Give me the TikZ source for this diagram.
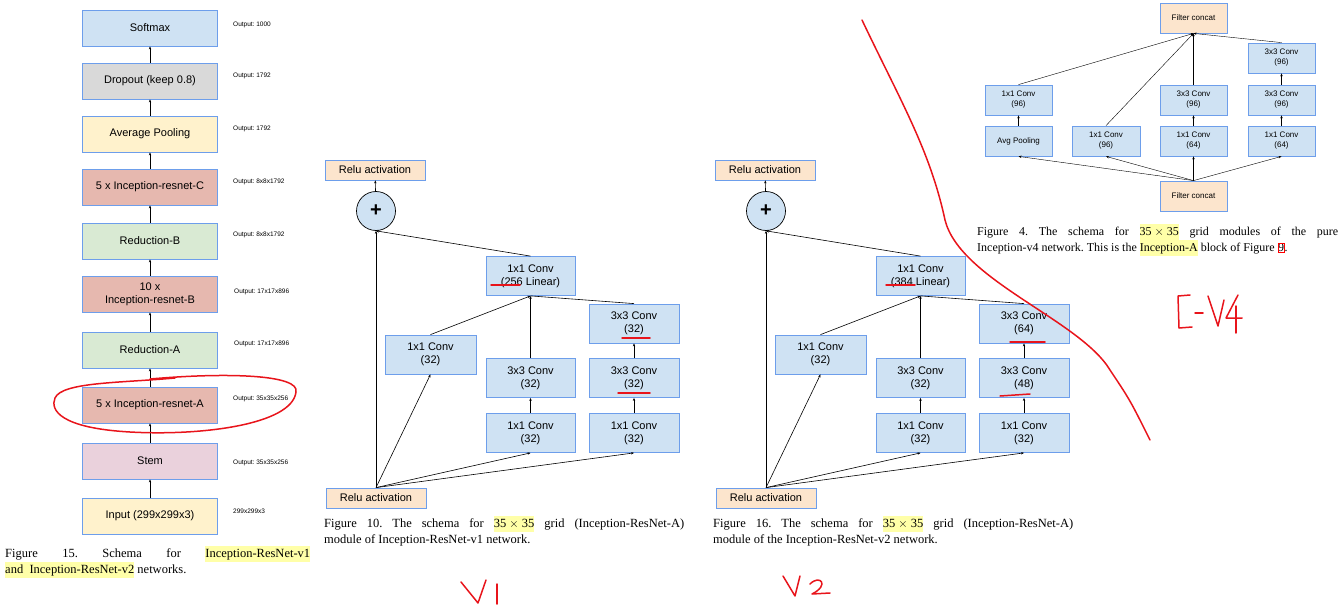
\documentclass[tikz,border=0pt]{standalone}
\usepackage{fontspec}
\setmainfont{Liberation Serif}
\newfontfamily\arial{Liberation Sans}
\usetikzlibrary{arrows.meta}
\definecolor{convfill}{HTML}{CFE2F3}
\definecolor{convdraw}{HTML}{6D9EEB}
\definecolor{relufill}{HTML}{FCE5CD}
\definecolor{redfill}{HTML}{E6B8AF}
\definecolor{greenfill}{HTML}{D9EAD3}
\definecolor{grayfill}{HTML}{D9D9D9}
\definecolor{yelfill}{HTML}{FFF2CC}
\definecolor{pinkfill}{HTML}{EAD1DC}
\definecolor{hly}{HTML}{FFFFA8}
\definecolor{pen}{HTML}{E8141B}
\newcommand{\hlt}[1]{{\setlength{\fboxsep}{0pt}\colorbox{hly}{\strut #1}}}
\frenchspacing
\tikzset{
  blk/.style={draw=convdraw, fill=convfill, line width=0.8pt, inner sep=0pt,
    align=center, font=\arial\fontsize{11}{13}\selectfont},
  conv/.style={blk, minimum width=90pt, minimum height=39pt},
  relu/.style={blk, fill=relufill, minimum width=100pt, minimum height=20pt},
  stage/.style={blk, minimum width=135pt, minimum height=36pt},
  small/.style={blk, font=\arial\fontsize{8}{10}\selectfont, minimum width=67pt, minimum height=30pt},
  outl/.style={anchor=west, inner sep=0pt, font=\arial\fontsize{6.5}{7}\selectfont},
  capt/.style={anchor=north west, inner sep=0pt, align=left, font=\fontsize{12.5}{16}\selectfont},
  arr/.style={-{Stealth[length=3pt,width=2.4pt]}, line width=0.6pt},
  ln/.style={line width=0.6pt},
  hand/.style={pen, line width=1.5pt, line cap=round, line join=round}
}
% one Inception-ResNet-A module, shifted by #1, node prefix #2
\newcommand{\resmod}[5]{%
  \begin{scope}[xshift=#1]
    \node[relu] (#2top) at (375,170) {Relu activation};
    \node[circle, draw=black, fill=convfill, line width=0.7pt, minimum size=39pt,
      inner sep=0pt, font=\arial\bfseries\fontsize{20}{20}\selectfont] (#2sum) at (376,211) {+};
    \node[conv, minimum width=89pt] (#2lin) at (530.5,276) {1x1 Conv\\(#3 Linear)};
    \node[conv] (#2ca) at (634,323.5) {3x3 Conv\\(#4)};
    \node[conv, minimum width=91pt] (#2left) at (430.5,354.5) {1x1 Conv\\(32)};
    \node[conv, minimum width=89pt] (#2mid) at (530.5,378) {3x3 Conv\\(32)};
    \node[conv] (#2cb) at (634,378) {3x3 Conv\\(#5)};
    \node[conv, minimum width=89pt] (#2mb) at (530.5,433) {1x1 Conv\\(32)};
    \node[conv] (#2rb) at (634,433) {1x1 Conv\\(32)};
    \node[relu] (#2in) at (376,498) {Relu activation};
    \draw[arr] (#2in.north) -- (#2left.south);
    \draw[arr] (#2in.north) -- (#2sum.south);
    \draw[arr] (#2in.north) -- (#2mb.south);
    \draw[arr] (#2in.north) -- (#2rb.south);
    \draw[arr] (#2mb) -- (#2mid);
    \draw[arr] (#2rb) -- (#2cb);
    \draw[arr] (#2cb) -- (#2ca);
    \draw[arr] (#2left.north) -- (#2lin.south);
    \draw[arr] (#2mid.north) -- (#2lin.south);
    \draw[ln] (#2ca.north) -- (#2lin.south);
    \draw[arr] (#2lin.north) -- (#2sum.south);
    \draw[arr] (#2sum) -- (#2top);
  \end{scope}}
\begin{document}
\begin{tikzpicture}[x=1pt, y=-1pt]
  \useasboundingbox (0,0) rectangle (1341,607);
  % left column
  \node[stage] (soft) at (150,28) {Softmax};
  \node[stage, fill=grayfill] (drop) at (150,81) {Dropout (keep 0.8)};
  \node[stage, fill=yelfill] (avg) at (150,134) {Average Pooling};
  \node[stage, fill=redfill] (irc) at (150,187) {5 x Inception-resnet-C};
  \node[stage, fill=greenfill] (redb) at (150,241) {Reduction-B};
  \node[stage, fill=redfill] (irb) at (150,294) {10 x\\Inception-resnet-B};
  \node[stage, fill=greenfill] (reda) at (150,350) {Reduction-A};
  \node[stage, fill=redfill] (ira) at (150,405) {5 x Inception-resnet-A};
  \node[stage, fill=pinkfill] (stem) at (150,461) {Stem};
  \node[stage, fill=yelfill] (inp) at (150,516) {Input (299x299x3)};
  \foreach \a/\b in {inp/stem, stem/ira, ira/reda, reda/irb, irb/redb, redb/irc, irc/avg, avg/drop, drop/soft}
    \draw[arr] (\a) -- (\b);
  \node[outl] at (233,25) {Output: 1000};
  \node[outl] at (233,76) {Output: 1792};
  \node[outl] at (233,129) {Output: 1792};
  \node[outl] at (233,182) {Output: 8x8x1792};
  \node[outl] at (233,235) {Output: 8x8x1792};
  \node[outl] at (234,292) {Output: 17x17x896};
  \node[outl] at (234,344) {Output: 17x17x896};
  \node[outl] at (233,399) {Output: 35x35x256};
  \node[outl] at (233,463) {Output: 35x35x256};
  \node[outl] at (233,511) {299x299x3};
  \node[capt] (cap15) at (5,546) {\makebox[305pt][s]{Figure 15. Schema for \hlt{Inception-ResNet-v1}}\\
    \hlt{and \ Inception-ResNet-v2} networks.};
  % v1 and v2 modules
  \resmod{0pt}{a}{256}{32}{32}
  \resmod{390pt}{b}{384}{64}{48}
  \node[capt] (cap10) at (324,516) {\makebox[360pt][s]{Figure 10. The schema for \hlt{35 $\times$ 35} grid (Inception-ResNet-A)}\\
    module of Inception-ResNet-v1 network.};
  \node[capt] (cap16) at (713,516) {\makebox[360pt][s]{Figure 16. The schema for \hlt{35 $\times$ 35} grid (Inception-ResNet-A)}\\
    module of the Inception-ResNet-v2 network.};
  % Inception-v4 block
  \node[small, fill=relufill] (fct) at (1193.5,18) {Filter concat};
  \node[small] (r3) at (1281.5,58) {3x3 Conv\\(96)};
  \node[small] (p2) at (1018.5,100) {1x1 Conv\\(96)};
  \node[small] (m2) at (1193.5,100) {3x3 Conv\\(96)};
  \node[small] (r2) at (1281.5,100) {3x3 Conv\\(96)};
  \node[small] (pool) at (1018.5,141) {Avg Pooling};
  \node[small, minimum width=68pt] (c1) at (1106,141) {1x1 Conv\\(96)};
  \node[small] (m1) at (1193.5,141) {1x1 Conv\\(64)};
  \node[small] (r1) at (1281.5,141) {1x1 Conv\\(64)};
  \node[small, fill=relufill] (fcb) at (1193.5,196) {Filter concat};
  \foreach \t in {pool, c1, m1, r1}
    \draw[arr, line width=0.4pt] (fcb.north) -- (\t.south);
  \draw[arr, line width=0.4pt] (pool) -- (p2);
  \draw[arr, line width=0.4pt] (m1) -- (m2);
  \draw[arr, line width=0.4pt] (r1) -- (r2);
  \draw[arr, line width=0.4pt] (r2) -- (r3);
  \foreach \t in {p2, c1, m2, r3}
    \draw[arr, line width=0.4pt] (\t.north) -- (fct.south);
  \node[capt, font=\fontsize{12}{16}\selectfont] (cap4) at (977,224) {\makebox[361pt][s]{Figure 4. The schema for \hlt{35 $\times$ 35} grid modules of the pure}\\
    Inception-v4 network. This is the \hlt{Inception-A} block of Figure {\setlength{\fboxsep}{0pt}\color{red}\fbox{\color{black}9}}.};
  % red annotations
  \draw[hand] (150,379) .. controls (230,372) and (300,375) .. (296,392)
    .. controls (292,425) and (200,436) .. (130,432)
    .. controls (60,428) and (50,410) .. (55,398)
    .. controls (62,382) and (120,383) .. (175,378);
  \draw[hand] (862,20) .. controls (900,100) and (930,150) .. (945,220)
    .. controls (960,280) and (1080,320) .. (1110,370) .. controls (1130,400) .. (1150,440);
  \draw[hand] (491,285) -- (520,285);
  \draw[hand] (886,285) -- (915,285);
  \draw[hand] (622,338) -- (650,338);
  \draw[hand] (1010,342) -- (1045,342);
  \draw[hand] (618,393) -- (650,393);
  \draw[hand] (1000,396) -- (1030,394);
  \draw[hand] (1190,295) -- (1178,296) -- (1179,328) -- (1192,327);
  \draw[hand] (1195,313) -- (1203,313);
  \draw[hand] (1208,296) -- (1218,326) -- (1224,300);
  \draw[hand] (1238,295) -- (1226,318) -- (1242,318);
  \draw[hand] (1236,306) -- (1236,333);
  \draw[hand] (461,582) -- (478,603) -- (486,580);
  \draw[hand] (497,584) -- (497,604);
  \draw[hand] (783,576) -- (795,596) -- (800,576);
  \draw[hand] (810,584) .. controls (820,574) and (830,585) .. (812,594) -- (830,593);
\end{tikzpicture}
\end{document}
